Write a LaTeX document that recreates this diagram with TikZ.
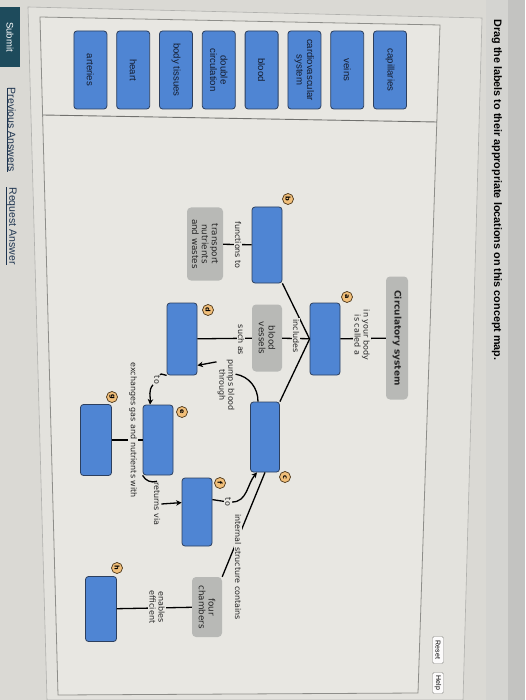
\documentclass[tikz,border=0pt]{standalone}
\usepackage{fontspec}
\setmainfont{Liberation Sans}
\newfontfamily\mapfont{DejaVu Sans}
\usepackage{tikz}
\usetikzlibrary{arrows.meta,positioning,calc}

\definecolor{boxblue}{HTML}{4F85D3}
\definecolor{boxline}{HTML}{2C3F5E}
\definecolor{givengray}{HTML}{B8B9B6}
\definecolor{mapbg}{HTML}{E8E7E2}
\definecolor{panelbg}{HTML}{E3E2DD}
\definecolor{photobg}{HTML}{DAD9D4}
\definecolor{titlegray}{HTML}{D4D4D1}
\definecolor{edgegray}{HTML}{C3C3C1}
\definecolor{badgefill}{HTML}{F1BF7A}
\definecolor{badgeline}{HTML}{4A3518}
\definecolor{banktext}{HTML}{141C2E}
\definecolor{submitteal}{HTML}{1E4B5C}
\definecolor{framegray}{HTML}{8E8E8A}
\definecolor{linkblue}{HTML}{1F3550}

\begin{document}
\begin{tikzpicture}[x=1pt, y=1pt,
bankbox/.style={draw=boxline, fill=boxblue, rounded corners=3pt, line width=0.8pt, minimum width=78pt, minimum height=33pt, align=center, inner sep=1pt, text=banktext, font=\fontsize{9.6}{10.5}\selectfont},
slot/.style={draw=boxline, fill=boxblue, rounded corners=3pt, line width=0.8pt, inner sep=0pt, minimum width=72pt, minimum height=30pt},
given/.style={fill=givengray, rounded corners=4pt, align=center, inner sep=2pt, text=black!85, font=\mapfont\fontsize{8.8}{9.8}\selectfont},
lbl/.style={fill=mapbg, align=center, inner sep=1pt, text=black!85, font=\mapfont\fontsize{8}{9}\selectfont},
badge/.style={circle, draw=badgeline, fill=badgefill, line width=0.7pt, minimum size=11pt, inner sep=0pt, font=\mapfont\bfseries\fontsize{6.5}{7}\selectfont},
link/.style={line width=1.3pt},
arrow/.style={-{Stealth[length=5.5pt,width=5.5pt]}, line width=1.3pt},
smallbtn/.style={draw=framegray, fill=white!85!mapbg, rounded corners=1.5pt, minimum height=11pt, inner sep=1pt, font=\fontsize{7}{8}\selectfont}
]
\begin{scope}[rotate=-90, transform shape]
\useasboundingbox (0,0) rectangle (700,525);
% photo of the screen
\fill[photobg] (0,0) rectangle (700,525);
\fill[titlegray] (0,486) rectangle (700,525);
\fill[edgegray] (0,508) rectangle (700,525);
\draw[framegray!70, line width=0.6pt, fill=panelbg] (7,28) -- (18,482) -- (700,463) -- (700,47) -- cycle;
\draw[framegray, line width=0.8pt, fill=mapbg] (17,40) -- (25,440) -- (693,418) -- (695,58) -- cycle;
\draw[framegray!80!black, line width=0.9pt] (115,43) -- (122,437);

\node[font=\bfseries\fontsize{10.8}{12}\selectfont] (title) at (190,497) {Drag the labels to their appropriate locations on this concept map.};

% label bank
\node[bankbox] (cap) at (70,390) {capillaries};
\node[bankbox, below=9pt of cap] (veins) {veins};
\node[bankbox, below=9pt of veins] (cardio) {cardiovascular\\system};
\node[bankbox, below=9pt of cardio] (blood) {blood};
\node[bankbox, below=9pt of blood] (double) {double\\circulation};
\node[bankbox, below=9pt of double] (tissues) {body tissues};
\node[bankbox, below=9pt of tissues] (heart) {heart};
\node[bankbox, below=9pt of heart] (arteries) {arteries};

% concept map
\node[given, font=\mapfont\bfseries\fontsize{9}{10}\selectfont, minimum width=123pt, minimum height=22pt] (circ) at (338,397) {Circulatory system};
\node[slot] (a) at (339,325) {};
\node[given, minimum width=67pt, minimum height=30pt] (vessels) at (338,267) {blood\\vessels};
\node[slot, minimum width=76pt] (b) at (245,267) {};
\node[given, minimum width=73pt, minimum height=36pt] (transport) at (244,205) {transport\\nutrients\\and wastes};
\node[slot] (d) at (339,182) {};
\node[slot, minimum width=70pt, minimum height=29pt] (c) at (437,265) {};
\node[slot, minimum width=70pt] (e) at (440,158) {};
\node[slot, minimum width=71pt, minimum height=31pt] (g) at (440,96) {};
\node[slot, minimum width=68pt] (f) at (512,197) {};
\node[given, minimum width=60pt, minimum height=30pt] (chambers) at (607,207) {four\\chambers};
\node[slot, minimum width=65pt, minimum height=31pt] (h) at (609,101) {};

\draw[link] (circ) -- (a);
\draw[link] (a) -- (vessels);
\draw[link] (a.south) -- (b.north east);
\draw[link] (a.south) -- (c.north west);
\draw[link] (b) -- (transport);
\draw[link] (vessels) -- (d);
\draw[link] (e) -- (g);
\draw[link] (c.east) -- (chambers.north west);
\draw[link] (chambers) -- (h);

\node[lbl] (inbody) at (335,362) {in your body\\is called a};
\node[lbl] (incl) at (336,296) {includes};
\node[lbl] (funct) at (245,238) {functions to};
\node[lbl] (suchas) at (340,241) {such as};
\node[lbl] (pumps) at (385,226) {pumps blood\\through};
\node[lbl] (tod) at (380,157) {to};
\node[lbl] (exch) at (430,133) {exchanges gas and nutrients with};
\node[lbl] (returns) at (504,157) {returns via};
\node[lbl] (tof) at (502,228) {to};
\node[lbl] (internal) at (567,238) {internal structure contains};
\node[lbl] (enables) at (607,157) {enables\\efficient};

\draw[link] ($(c.west)+(0,-7)$) to[out=180,in=80] ($(pumps.north west)!0.3!(pumps.north east)$);
\draw[arrow] ($(pumps.south west)+(4,0)$) -- ($(d.north east)+(-10,0)$);
\draw[link] (d.south east) to[out=-80,in=150] (tod);
\draw[arrow] (tod) to[out=-40,in=175] ($(e.west)+(0,-8)$);
\draw[link] (e.south east) to[bend right=40] (returns.west);
\draw[arrow] (returns.north) -- ($(f.south west)+(25,0)$);
\draw[link] ($(f.north west)+(22,0)$) -- (tof);
\draw[arrow] (tof) to[out=90,in=-40] ($(c.east)+(0,-8)$);

% letter badges
\node[badge] (ba) at (297,347) {a};
\node[badge] (bb) at (199,288) {b};
\node[badge] (bc) at (477,285) {c};
\node[badge] (bd) at (310,208) {d};
\node[badge] (be) at (412,182) {e};
\node[badge] (bf) at (483,220) {f};
\node[badge] (bg) at (397,112) {g};
\node[badge] (bh) at (568,117) {h};

% buttons and links
\node[smallbtn, minimum width=27pt] (reset) at (650,438) {Reset};
\node[smallbtn, minimum width=21pt] (help) at (683,438) {Help};
\node[fill=submitteal, text=white, minimum width=60pt, minimum height=20pt, font=\fontsize{9.5}{10}\selectfont] (submit) at (37,10) {Submit};
\node[text=linkblue, font=\fontsize{10.5}{11}\selectfont] (prev) at (130,11) {\underline{Previous Answers}};
\node[text=linkblue, font=\fontsize{10.5}{11}\selectfont] (request) at (226,11) {\underline{Request Answer}};
\end{scope}
\end{tikzpicture}
\end{document}
